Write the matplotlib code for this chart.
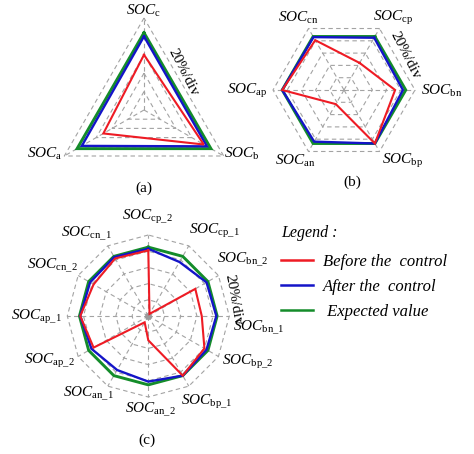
import numpy as np
import matplotlib.pyplot as plt

plt.rcParams['font.family'] = ['Liberation Serif', 'DejaVu Serif']
plt.rcParams['mathtext.fontset'] = 'custom'
plt.rcParams['mathtext.rm'] = 'Liberation Serif'
plt.rcParams['mathtext.it'] = 'Liberation Serif:italic'

# (a) three-phase view
a_labels = ['c', 'a', 'b']
a_before = [0.60, 0.51, 0.75]
a_after = [0.80, 0.78, 0.79]
a_expected = [0.84, 0.84, 0.84]

# (b) six-arm view
b_labels = ['cp', 'cn', 'ap', 'an', 'bp', 'bn']
b_before = [0.44, 0.81, 0.87, 0.23, 0.87, 0.72]
b_after = [0.85, 0.86, 0.87, 0.84, 0.87, 0.83]
b_expected = [0.87, 0.87, 0.87, 0.87, 0.87, 0.87]

# (c) twelve-module view
c_labels = ['cp_2', 'cn_1', 'cn_2', 'ap_1', 'ap_2', 'an_1',
            'an_2', 'bp_1', 'bp_2', 'bn_1', 'bn_2', 'cp_1']
c_before = [0.81, 0.82, 0.78, 0.84, 0.78, 0.09, 0.30, 0.85, 0.80, 0.66, 0.67, 0.03]
c_after = [0.83, 0.84, 0.83, 0.84, 0.81, 0.77, 0.81, 0.85, 0.83, 0.84, 0.83, 0.77]
c_expected = [0.85] * 12

grid_levels = [0.2, 0.4, 0.6, 0.8, 1.0]
legend_names = ['Before the  control', 'After the  control', ' Expected value']

RED = '#EE1B24'
BLUE = '#1414C8'
GREEN = '#148C2A'
GRID = '#A3A3A3'

W, H = 474, 454
fig = plt.figure(figsize=(W / 100, H / 100), dpi=100)


def rect(cx, cy, r):
    return [(cx - r) / W, (H - cy - r) / H, 2 * r / W, 2 * r / H]


def radar(box, labels, before, after, expected, start, offsets, dot=False):
    ax = fig.add_axes(box, projection='polar')
    n = len(labels)
    theta = 2 * np.pi * np.arange(n) / n
    closed = np.append(theta, theta[0])
    ax.set_theta_offset(np.deg2rad(start))
    ax.set_ylim(0, 1)
    ax.set_xticks([])
    ax.set_yticks([])
    ax.grid(False)
    ax.spines['polar'].set_visible(False)
    for lv in grid_levels:
        ax.plot(closed, [lv] * (n + 1), ls=(0, (4, 3)), color=GRID, lw=0.8, clip_on=False)
    for t in theta:
        ax.plot([t, t], [0, 1], ls=(0, (4, 3)), color=GRID, lw=0.8, clip_on=False)
    lines = []
    for vals, col, lw in [(before, RED, 1.5), (after, BLUE, 1.7), (expected, GREEN, 2.1)]:
        ln, = ax.plot(closed, list(vals) + [vals[0]], color=col, lw=lw,
                      solid_joinstyle='miter', clip_on=False)
        lines.append(ln)
    lines[0].set_zorder(4)
    lines[1].set_zorder(3)
    lines[2].set_zorder(2)
    if dot:
        ax.plot(0, 0, 'o', color='#9A9A9A', ms=4)
    for t, lab, off in zip(theta, labels, offsets):
        ax.annotate(r'$\mathit{SOC}_{\mathrm{%s}}$' % lab.replace('_', r'\_'),
                    xy=(t, 1), xytext=off, textcoords='offset pixels',
                    ha='center', va='center', fontsize=11, annotation_clip=False)
    return lines


radar(rect(144, 110, 92), a_labels, a_before, a_after, a_expected, 90,
      [(0, 7), (-20, 2), (18, 2)])
radar(rect(344, 90, 71), b_labels, b_before, b_after, b_expected, 60,
      [(13.5, 10.5), (-10.5, 10.5), (-25.5, -1), (-13.5, -9.5), (23.5, -9.5), (27, -1)])
lines = radar(rect(148.3, 316, 81), c_labels, c_before, c_after, c_expected, 90,
              [(-1, 18.5), (-21, 12.4), (-26, 10), (-31, -0.5), (-29, -5), (-19, -7.4),
               (2, -13), (18, -15.4), (29, -5), (29, -11.5), (24, 16), (26, 14.4)],
              dot=True)

# scale notes and captions
for x, y, rot in [(183, 72.5, -63), (405, 55, -63), (233, 300, -80)]:
    fig.text(x / W, 1 - y / H, '20%/div', rotation=rot, rotation_mode='anchor',
             ha='center', va='center', fontsize=11)
for x, y, s in [(144, 188, '(a)'), (352, 182, '(b)'), (147, 440, '(c)')]:
    fig.text(x / W, 1 - y / H, s, ha='center', va='center', fontsize=11)

leg = fig.legend(lines, legend_names, loc='upper left',
                 bbox_to_anchor=(281 / W, 1 - 225 / H), frameon=False,
                 borderpad=0, borderaxespad=0, handlelength=1.9, handletextpad=0.6,
                 labelspacing=0.55, title='Legend :', alignment='left',
                 prop={'style': 'italic', 'size': 12},
                 title_fontproperties={'style': 'italic', 'size': 11.5})
leg._legend_box.sep = 9
for h in leg.get_lines():
    h.set_linewidth(1.8)

fig.savefig('out.png', dpi=100)
